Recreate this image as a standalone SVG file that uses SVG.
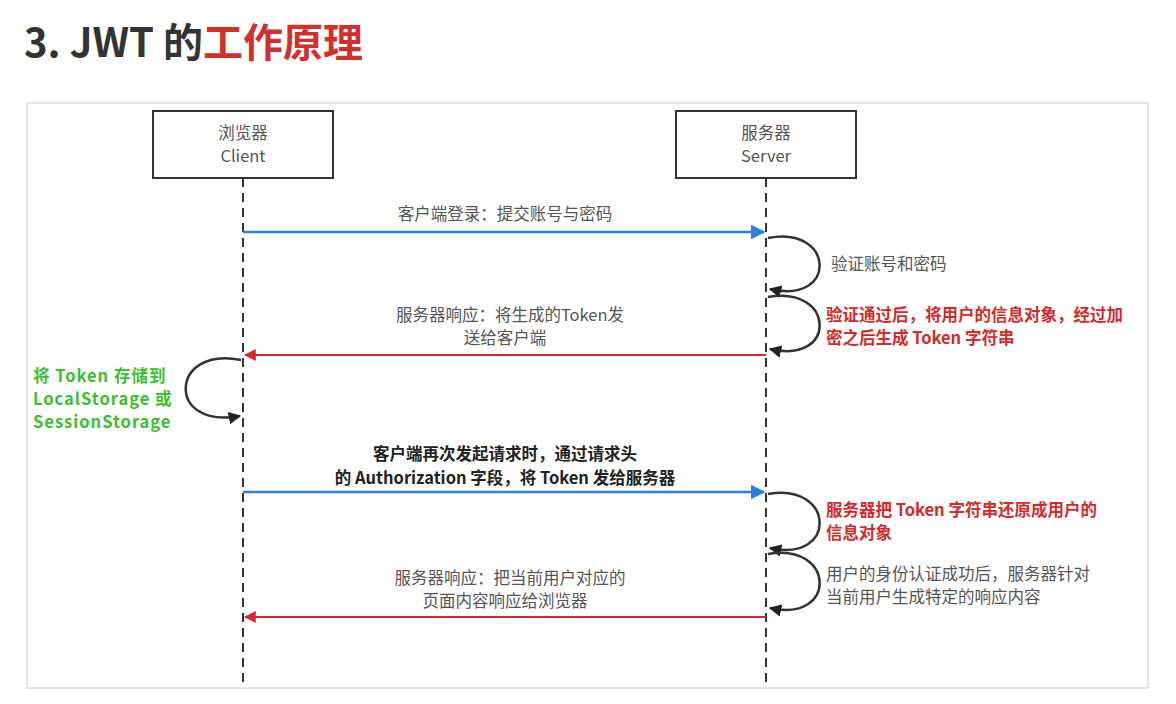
<svg xmlns="http://www.w3.org/2000/svg" width="1176" height="704" viewBox="0 0 1176 704">
<defs>
<style>
text{font-family:"Noto Sans CJK SC","Liberation Sans",sans-serif}
.box{fill:#fff;stroke:#333;stroke-width:2}
.life{stroke:#333;stroke-width:2;stroke-dasharray:9,6}
.lbl{font-size:16.5px;fill:#555}
.gr{font-size:16.5px;fill:#555;text-anchor:middle}
.bold{font-size:16.5px;font-weight:bold}
.loop{fill:none;stroke:#333;stroke-width:2.5}
</style>
<marker id="ab" viewBox="0 0 10 10" refX="9" refY="5" markerWidth="6" markerHeight="6" orient="auto"><path d="M0,0L10,5L0,10z" fill="#2f7fe0"/></marker>
<marker id="ar" viewBox="0 0 10 10" refX="9" refY="5" markerWidth="6" markerHeight="6" orient="auto"><path d="M0,0L10,5L0,10z" fill="#d42a2a"/></marker>
<marker id="ak" viewBox="0 0 10 10" refX="9" refY="5" markerWidth="5" markerHeight="5" orient="auto"><path d="M0,0L10,5L0,10z" fill="#222"/></marker>
</defs>
<rect width="1176" height="704" fill="#fff"/>
<text x="24" y="57" font-size="40" font-weight="bold" fill="#333">3. JWT 的<tspan fill="#d0312d">工作原理</tspan></text>
<rect x="27" y="103" width="1121" height="585" fill="#fff" stroke="#ddd" stroke-width="1.5"/>
<g id="client"><rect class="box" x="153" y="111" width="180" height="67"/>
<text class="gr" x="243" y="139">浏览器</text><text class="gr" x="243" y="162">Client</text></g>
<g id="server"><rect class="box" x="676" y="111" width="180" height="67"/>
<text class="gr" x="766" y="139">服务器</text><text class="gr" x="766" y="162">Server</text></g>
<g id="connectors">
<line class="life" x1="243" y1="178" x2="243" y2="682"/>
<line class="life" x1="766" y1="178" x2="766" y2="682"/>
<line x1="243" y1="232" x2="764" y2="232" stroke="#2f7fe0" stroke-width="2.5" marker-end="url(#ab)"/>
<line x1="766" y1="355" x2="245" y2="355" stroke="#d42a2a" stroke-width="2" marker-end="url(#ar)"/>
<line x1="243" y1="492" x2="764" y2="492" stroke="#2f7fe0" stroke-width="2.5" marker-end="url(#ab)"/>
<line x1="766" y1="617" x2="245" y2="617" stroke="#d42a2a" stroke-width="2" marker-end="url(#ar)"/>
<path class="loop" d="M768,238 C835,225 838,305 770,289" marker-end="url(#ak)"/>
<path class="loop" d="M768,297 C835,285 838,365 770,349" marker-end="url(#ak)"/>
<path class="loop" d="M241,360 C170,345 165,430 240,416" marker-end="url(#ak)"/>
<path class="loop" d="M768,494 C835,482 838,563 770,548" marker-end="url(#ak)"/>
<path class="loop" d="M768,554 C835,542 838,623 770,608" marker-end="url(#ak)"/>
</g>
<g id="labels">
<text class="gr" x="505" y="220">客户端登录：提交账号与密码</text>
<text class="lbl" x="831" y="270">验证账号和密码</text>
<text class="gr" x="510" y="321">服务器响应：将生成的Token发</text>
<text class="gr" x="505" y="344">送给客户端</text>
<text class="bold" x="826" y="321" fill="#d42a2a">验证通过后，将用户的信息对象，经过加</text>
<text class="bold" x="826" y="344" fill="#d42a2a">密之后生成 Token 字符串</text>
<text class="bold" x="33" y="382" fill="#3cbf2e" letter-spacing="1">将 Token 存储到</text>
<text class="bold" x="33" y="405" fill="#3cbf2e" letter-spacing="1">LocalStorage 或</text>
<text class="bold" x="33" y="428" fill="#3cbf2e" letter-spacing="1">SessionStorage</text>
<text class="bold" x="505" y="460" text-anchor="middle" fill="#222">客户端再次发起请求时，通过请求头</text>
<text class="bold" x="505" y="484" text-anchor="middle" fill="#222">的 Authorization 字段，将 Token 发给服务器</text>
<text class="bold" x="826" y="516" fill="#d42a2a">服务器把 Token 字符串还原成用户的</text>
<text class="bold" x="826" y="539" fill="#d42a2a">信息对象</text>
<text class="lbl" x="826" y="580">用户的身份认证成功后，服务器针对</text>
<text class="lbl" x="826" y="603">当前用户生成特定的响应内容</text>
<text class="gr" x="510" y="584">服务器响应：把当前用户对应的</text>
<text class="gr" x="505" y="607">页面内容响应给浏览器</text>
</g>
</svg>
